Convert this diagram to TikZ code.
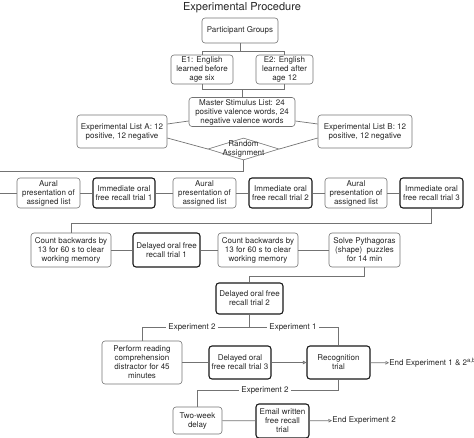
\documentclass[tikz,border=0pt]{standalone}
\usepackage{fontspec}
\setmainfont{TeX Gyre Heros}
\usetikzlibrary{shapes.geometric,arrows.meta}

\begin{document}
\begin{tikzpicture}[x=1pt,y=-1pt,
    box/.style={draw=black!55,rounded corners=3pt,align=center,inner sep=1pt,
      line width=.6pt,font=\fontsize{8}{9}\selectfont,text=black!85},
    key/.style={draw=black!90,line width=1.1pt},
    link/.style={draw=black!55,line width=.7pt},
    tag/.style={fill=white,inner sep=2pt,font=\fontsize{8}{9}\selectfont,text=black!85},
    >={Triangle[open,length=3.5pt,width=3.5pt]}]

        \useasboundingbox (0,0) rectangle (474,438);

        \node[font=\fontsize{11}{13}\selectfont,text=black!85] (0) at (242,8) {Experimental Procedure};

        \begin{scope}[every node/.style={box}]
          \node[minimum width=76pt,minimum height=25pt] (1) at (240,30.5) {Participant Groups};
          \node[minimum width=62pt,minimum height=29pt] (2) at (202,69.5) {E1: English\\learned before\\age six};
          \node[minimum width=57pt,minimum height=29pt] (3) at (284.5,69.5) {E2: English\\learned after\\age 12};
          \node[minimum width=106pt,minimum height=29pt] (4) at (242,112) {Master Stimulus List: 24\\positive valence words, 24\\negative valence words};
          \node[minimum width=90pt,minimum height=33pt] (5) at (122,131.5) {Experimental List A: 12\\positive, 12 negative};
          \node[minimum width=94pt,minimum height=33pt] (6) at (365,131.5) {Experimental List B: 12\\positive, 12 negative};
          \node[diamond,rounded corners=0pt,minimum width=71pt,minimum height=22pt,inner sep=0pt] (7) at (243.5,149) {};

          \node[minimum width=63pt,minimum height=30pt] (8)  at (48.5,193)  {Aural\\presentation of\\assigned list};
          \node[key,minimum width=62pt,minimum height=30pt] (9)  at (124,193)   {Immediate oral\\free recall trial 1};
          \node[minimum width=63pt,minimum height=30pt] (10) at (204.5,193) {Aural\\presentation of\\assigned list};
          \node[key,minimum width=63pt,minimum height=30pt] (11) at (280.5,193) {Immediate oral\\free recall trial 2};
          \node[minimum width=62pt,minimum height=30pt] (12) at (356,193)   {Aural\\presentation of\\assigned list};
          \node[key,minimum width=63pt,minimum height=30pt] (13) at (431.5,193) {Immediate oral\\free recall trial 3};

          \node[minimum width=80pt,minimum height=34pt] (14) at (71,250)    {Count backwards by\\13 for 60 s to clear\\working memory};
          \node[key,minimum width=67pt,minimum height=34pt] (15) at (166.5,250) {Delayed oral free\\recall trial 1};
          \node[minimum width=80pt,minimum height=34pt] (16) at (258,250)   {Count backwards by\\13 for 60 s to clear\\working memory};
          \node[minimum width=71pt,minimum height=34pt] (17) at (364.5,250) {Solve Pythagoras\\(shape)\ \ puzzles\\for 14 min};

          \node[key,minimum width=67pt,minimum height=31pt] (18) at (249.5,298.5) {Delayed oral free\\recall trial 2};

          \node[minimum width=80pt,minimum height=43pt] (19) at (142,362.5) {Perform reading\\comprehension\\distractor for 45\\minutes};
          \node[key,minimum width=62pt,minimum height=33pt] (20) at (240,362.5) {Delayed oral\\free recall trial 3};
          \node[key,minimum width=63pt,minimum height=33pt] (21) at (338.5,362.5) {Recognition\\trial};

          \node[minimum width=49pt,minimum height=27pt] (23) at (197.5,420.5) {Two-week\\delay};
          \node[key,minimum width=53pt,minimum height=34pt] (24) at (282.5,421) {Email written\\free recall\\trial};
        \end{scope}

        \node[box,draw=none] (7t) at (7) {Random\\Assignment};
        \node[box,draw=none,anchor=west,inner sep=0pt] (22) at (389,363) {End Experiment 1 \& 2\textsuperscript{a,b}};
        \node[box,draw=none,anchor=west,inner sep=0pt] (25) at (332,420.5) {End Experiment 2};
        \coordinate (L) at (-6,171);

        \begin{scope}[every path/.style={link}]
          \draw (1) -- ++(0,20.5) -| (2);
          \draw (1) -- ++(0,20.5) -| (3);
          \draw (2) -- ++(0,19.5) -| (3);
          \draw (4) -- ++(0,-23);
          \draw ([yshift=-9pt]4.west) -- ([yshift=7.5pt]5.east);
          \draw ([yshift=-9pt]4.east) -- ([yshift=7.5pt]6.west);
          \draw ([yshift=-6.5pt]5.east) -- (7.west);
          \draw ([yshift=-6.5pt]6.west) -- (7.east);
          \draw (7) |- (L) |- (8);
          \path (8)  edge (9)  (9)  edge (10) (10) edge (11)
                (11) edge (12) (12) edge (13);
          \draw (13) -- ++(0,30) -| (14);
          \path (14) edge (15) (15) edge (16) (16) edge (17);
          \draw (17) -- ++(0,26) -| (18);
          \draw (18) -- ++(0,28.5) -| (19);
          \draw (18) -- ++(0,28.5) -| (21);
          \path (19) edge (20);
          \path (20) edge[->] (21);
          \path (21) edge[->] (22);
          \draw (21) -- ++(0,27.5) -| (23);
          \path (23) edge (24);
          \path (24) edge[->] (25);
        \end{scope}

        \node[tag] (26) at (192,327) {Experiment 2};
        \node[tag] (27) at (293,327) {Experiment 1};
        \node[tag] (28) at (265,390) {Experiment 2};

      \end{tikzpicture}
\end{document}
